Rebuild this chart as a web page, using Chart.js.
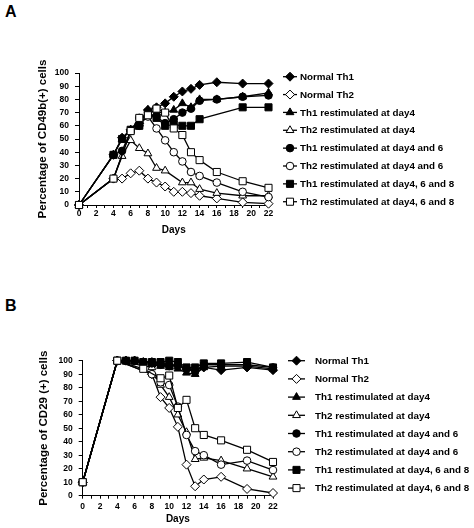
<!DOCTYPE html>
<html>
<head>
<meta charset="utf-8">
<script src="https://cdn.jsdelivr.net/npm/chart.js@4.4.1/dist/chart.umd.min.js"></script>
<style>
  body { margin: 0; background: #fff; }
  #wrap { position: relative; width: 474px; height: 528px; overflow: hidden; background: #fff; }
  canvas { position: absolute; left: 0; }
  .panel { position: absolute; left: 5px; font: bold 16px "Liberation Sans", Arial, sans-serif; line-height: 18px; }
</style>
</head>
<body>
<div id="wrap">
  <div class="panel" style="top:3px">A</div>
  <div class="panel" style="top:297px">B</div>
  <canvas id="chartA" width="474" height="245" style="top:0;width:474px;height:245px"></canvas>
  <canvas id="chartB" width="474" height="258" style="top:270px;width:474px;height:258px"></canvas>
</div>
<script>
// Sampling days and tick labels
const days = [0, 4, 5, 6, 7, 8, 9, 10, 11, 12, 13, 14, 16, 19, 22];
const dayLabels = [0, 2, 4, 6, 8, 10, 12, 14, 16, 18, 20, 22];

const seriesNames = [
  'Normal Th1',
  'Normal Th2',
  'Th1 restimulated at day4',
  'Th2 restimulated at day4',
  'Th1 restimulated at day4 and 6',
  'Th2 restimulated at day4 and 6',
  'Th1 restimulated at day4, 6 and 8',
  'Th2 restimulated at day4, 6 and 8'
];

// Panel A: % CD49b(+) cells (null = no point that day)
const aNormalTh1 = [0, 38, 51, 57, 62, 72, 74, 77, 82, 86, 88, 91, 93, 92, 92];
const aNormalTh2 = [0, 20, 20, 24, 26, 20, 17, 14, 10, 10, 9, 7, 5, 2, 1];
const aTh1Day4 = [0, 38, 50, 57, 62, 72, 70, 70, 72, 77, 74, 80, 80, 82, 85];
const aTh2Day4 = [0, 20, 37, 49, 43, 39, 28, 26, null, 17, 17, 12, 9, 7, 7];
const aTh1Day46 = [0, 38, 41, 56, 60, 68, 67, 62, 65, 70, 73, 79, 80, 82, 83];
const aTh2Day46 = [0, 20, null, 56, 66, 67, 58, 49, 40, 33, 25, 22, 17, 10, 6];
const aTh1Day468 = [0, 38, 50, 57, 60, 70, 66, 60, 61, 60, 60, 65, null, 74, 74];
const aTh2Day468 = [0, 20, null, 56, 66, 68, 73, 70, 58, 53, 40, 34, 25, 18, 13];

// Panel B: % CD29(+) cells
const bNormalTh1 = [10, 100, 100, 100, 99, 99, 98, 97, 96, 94, 93, 95, 93, 95, 93];
const bNormalTh2 = [10, 100, null, null, null, 90, 73, 65, 51, 23, 7, 12, 14, 5, 2];
const bTh1Day4 = [10, 100, 100, 100, 98, 97, 96, 95, 94, 91, 90, 95, 96, 96, 94];
const bTh2Day4 = [10, 100, null, null, null, 95, 82, 73, 60, 47, 27, 28, 26, 20, 14];
const bTh1Day46 = [10, 100, 100, 100, 99, 98, 97, 96, 97, 94, 92, 97, 97, 97, 95];
const bTh2Day46 = [10, 100, null, null, null, 90, 84, 82, 66, 45, 33, 30, 23, 26, 19];
const bTh1Day468 = [10, 100, 100, 100, 99, 99, 99, 100, 99, 95, 95, 98, 98, 99, 95];
const bTh2Day468 = [10, 100, null, null, 94, null, 87, 89, 65, 71, 50, 45, 41, 34, 25];

// marker look per series, same order as seriesNames
const markers = [
  { style: 'rectRot', fill: '#000', r: 4.5 },
  { style: 'rectRot', fill: '#fff', r: 4.5 },
  { style: 'triangle', fill: '#000', r: 4.5 },
  { style: 'triangle', fill: '#fff', r: 4.5 },
  { style: 'circle', fill: '#000', r: 3.8 },
  { style: 'circle', fill: '#fff', r: 3.8 },
  { style: 'rect', fill: '#000', r: 5 },
  { style: 'rect', fill: '#fff', r: 5 }
];

Chart.defaults.font.family = '"Liberation Sans", Arial, Helvetica, sans-serif';
Chart.defaults.color = '#000';

const tickFont = { size: 8.5, weight: 'bold' };
const axisTitleFont = { size: 11.5, weight: 'bold' };
const daysFont = { size: 10, weight: 'bold' };

// draws a marker the same way chart.js does for these styles
function drawMarker(ctx, style, x, y, r, fill) {
  ctx.beginPath();
  if (style === 'circle') {
    ctx.arc(x, y, r, 0, Math.PI * 2);
  } else if (style === 'rect') {
    const s = r * Math.SQRT1_2;
    ctx.rect(x - s, y - s, 2 * s, 2 * s);
  } else if (style === 'rectRot') {
    ctx.moveTo(x, y - r);
    ctx.lineTo(x + r, y);
    ctx.lineTo(x, y + r);
    ctx.lineTo(x - r, y);
  } else if (style === 'triangle') {
    for (let k = 0; k < 3; k++) {
      const a = -Math.PI / 2 + k * 2 * Math.PI / 3;
      const px = x + Math.cos(a) * r, py = y + Math.sin(a) * r;
      k === 0 ? ctx.moveTo(px, py) : ctx.lineTo(px, py);
    }
  }
  ctx.closePath();
  ctx.fillStyle = fill;
  ctx.fill();
  ctx.lineWidth = 1;
  ctx.strokeStyle = '#000';
  ctx.stroke();
}

// legend to the right of the plot, line sample + marker + text
function makeLegend(cfg) {
  return {
    id: 'sideLegend',
    afterDraw(chart) {
      const ctx = chart.ctx;
      ctx.save();
      seriesNames.forEach((name, i) => {
        const y = cfg.top + i * cfg.rowHeight;
        const m = markers[i];
        ctx.strokeStyle = '#000';
        ctx.lineWidth = 1.3;
        ctx.beginPath();
        ctx.moveTo(cfg.lineLeft, y);
        ctx.lineTo(cfg.lineRight, y);
        ctx.stroke();
        drawMarker(ctx, m.style, (cfg.lineLeft + cfg.lineRight) / 2, y, m.r, m.fill);
        ctx.fillStyle = '#000';
        ctx.font = 'bold 9.8px "Liberation Sans", Arial, sans-serif';
        ctx.textBaseline = 'middle';
        ctx.fillText(name, cfg.textLeft, y + 0.5);
      });
      ctx.restore();
    }
  };
}

function makeChart(id, seriesValues, yTitle, box) {
  const datasets = seriesValues.map((vals, i) => ({
    label: seriesNames[i],
    data: vals.map((v, j) => ({ x: days[j], y: v })),
    borderColor: '#000',
    borderWidth: 1.3,
    pointStyle: markers[i].style,
    pointRadius: markers[i].r,
    pointBackgroundColor: markers[i].fill,
    pointBorderColor: '#000',
    pointBorderWidth: 1,
    spanGaps: true,
    tension: 0,
    clip: false,
    order: 20 - i
  }));

  return new Chart(document.getElementById(id), {
    type: 'line',
    data: { datasets: datasets },
    options: {
      responsive: false,
      animation: false,
      events: [],
      layout: { padding: { left: 0, top: box.top, right: box.right, bottom: 0 } },
      plugins: { legend: { display: false }, tooltip: { enabled: false } },
      scales: {
        x: {
          type: 'linear',
          min: 0,
          max: 22,
          afterFit: (s) => { s.height = box.xAxisH; },
          ticks: {
            stepSize: 1,
            autoSkip: false,
            maxRotation: 0,
            padding: box.xTickPad,
            font: tickFont,
            color: '#000',
            callback: (v) => dayLabels.includes(v) ? String(v) : ''
          },
          grid: { display: true, drawOnChartArea: false, drawTicks: true, tickLength: 3, color: '#000', lineWidth: 1 },
          border: { display: true, color: '#000', width: 1 },
          title: { display: true, text: 'Days', font: daysFont, color: '#000', padding: { top: 0, bottom: box.daysPad } }
        },
        y: {
          min: 0,
          max: 100,
          afterFit: (s) => { s.width = box.yAxisW; },
          ticks: { stepSize: 10, padding: 6, font: tickFont, color: '#000' },
          grid: { display: true, drawOnChartArea: false, drawTicks: true, tickLength: 4, color: '#000', lineWidth: 1 },
          border: { display: true, color: '#000', width: 1 },
          title: { display: true, text: yTitle, font: axisTitleFont, color: '#000', padding: { top: box.yTitlePad, bottom: 0 } }
        }
      }
    },
    plugins: [makeLegend(box.legend)]
  });
}

makeChart('chartA',
  [aNormalTh1, aNormalTh2, aTh1Day4, aTh2Day4, aTh1Day46, aTh2Day46, aTh1Day468, aTh2Day468],
  'Percentage of CD49b(+) cells',
  { top: 73, right: 205.5, xAxisH: 40, yAxisW: 79, xTickPad: 1, daysPad: 9, yTitlePad: 36,
    legend: { top: 76.7, rowHeight: 17.86, lineLeft: 283, lineRight: 297, textLeft: 300 } });

makeChart('chartB',
  [bNormalTh1, bNormalTh2, bTh1Day4, bTh2Day4, bTh1Day46, bTh2Day46, bTh1Day468, bTh2Day468],
  'Percentage of CD29 (+) cells',
  { top: 90.7, right: 201, xAxisH: 32.3, yAxisW: 82.7, xTickPad: 3, daysPad: 3, yTitlePad: 37,
    legend: { top: 90.7, rowHeight: 18.2, lineLeft: 288, lineRight: 305, textLeft: 315 } });
</script>
</body>
</html>
